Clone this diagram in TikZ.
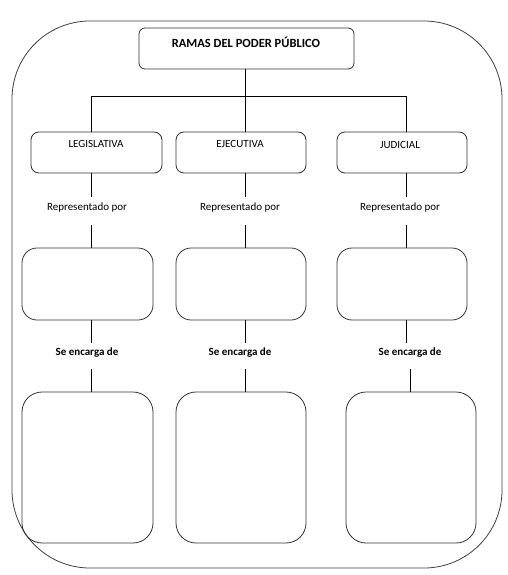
\documentclass[tikz,border=0pt]{standalone}
\usepackage{fontspec}
\setmainfont{Carlito}
\begin{document}
\begin{tikzpicture}[x=1pt,y=-1pt,
  boxa/.style={draw=black!80, line width=0.8pt, rounded corners=#1, inner sep=0pt, fill=none},
  lbl/.style={font=\fontsize{11}{13}\selectfont, inner sep=1pt},
  blbl/.style={font=\fontsize{11}{13}\selectfont\bfseries, inner sep=1pt},
  conn/.style={draw=black, line width=0.8pt}]
\fill[white] (0,0) rectangle (507,575);
\useasboundingbox (0,0) rectangle (507,575);
% outer frame
\draw[draw=black!75, line width=0.8pt, rounded corners=78pt] (12,21) rectangle (502,568);
% title
\node[boxa=6pt, minimum width=215pt, minimum height=41pt] (title) at (246.5,48.5) {};
\node[font=\fontsize{12.5}{14}\selectfont\bfseries] (titletxt) at (246,42) {RAMAS DEL PODER PÚBLICO};
% level 2
\node[boxa=8pt, minimum width=131pt, minimum height=41pt] (leg) at (96.5,152.5) {};
\node[boxa=8pt, minimum width=130pt, minimum height=41pt] (eje) at (241,152.5) {};
\node[boxa=8pt, minimum width=130pt, minimum height=41pt] (jud) at (402,152.5) {};
\node[lbl] (legt) at (96,144) {LEGISLATIVA};
\node[lbl] (ejet) at (240,144) {EJECUTIVA};
\node[lbl] (judt) at (400,145) {JUDICIAL};
% connector columns
\coordinate (c1) at (91,96);
\coordinate (c2) at (245,96);
\coordinate (c3) at (406,96);
\coordinate (c4) at (410,96);
\draw[conn] (title.south -| c2) -- (c2);
\draw[conn] (c1 |- leg.north) -- (c1) -- (c3) -- (c3 |- jud.north);
\draw[conn] (c2) -- (c2 |- eje.north);
% represented labels
\node[lbl] (rep1) at (87,208) {Representado por};
\node[lbl] (rep2) at (240,208) {Representado por};
\node[lbl] (rep3) at (400,208) {Representado por};
% level 3
\node[boxa=15pt, minimum width=131pt, minimum height=72pt] (r1) at (87.5,284) {};
\node[boxa=15pt, minimum width=130pt, minimum height=72pt] (r2) at (241,284) {};
\node[boxa=15pt, minimum width=130pt, minimum height=72pt] (r3) at (402,284) {};
\coordinate (a1) at (91,197); \coordinate (b1) at (91,225);
\coordinate (a2) at (245,197); \coordinate (b2) at (245,225);
\coordinate (a3) at (406,197); \coordinate (b3) at (406,225);
\draw[conn] (leg.south -| c1) -- (a1);
\draw[conn] (eje.south -| c2) -- (a2);
\draw[conn] (jud.south -| c3) -- (a3);
\draw[conn] (b1) -- (r1.north -| c1);
\draw[conn] (b2) -- (r2.north -| c2);
\draw[conn] (b3) -- (r3.north -| c3);
% se encarga labels
\node[blbl] (se1) at (87,353) {Se encarga de};
\node[blbl] (se2) at (240,353) {Se encarga de};
\node[blbl] (se3) at (410,353) {Se encarga de};
% level 4
\node[boxa=20pt, minimum width=131pt, minimum height=151pt] (f1) at (87.5,467.5) {};
\node[boxa=20pt, minimum width=130pt, minimum height=151pt] (f2) at (241,467.5) {};
\node[boxa=20pt, minimum width=130pt, minimum height=151pt] (f3) at (411,467.5) {};
\coordinate (d1) at (91,343); \coordinate (e1) at (91,369);
\coordinate (d2) at (245,343); \coordinate (e2) at (245,369);
\coordinate (d3) at (406,343); \coordinate (e3) at (410,369);
\draw[conn] (r1.south -| c1) -- (d1);
\draw[conn] (r2.south -| c2) -- (d2);
\draw[conn] (r3.south -| c3) -- (d3);
\draw[conn] (e1) -- (f1.north -| c1);
\draw[conn] (e2) -- (f2.north -| c2);
\draw[conn] (e3) -- (f3.north -| c4);
\end{tikzpicture}
\end{document}
